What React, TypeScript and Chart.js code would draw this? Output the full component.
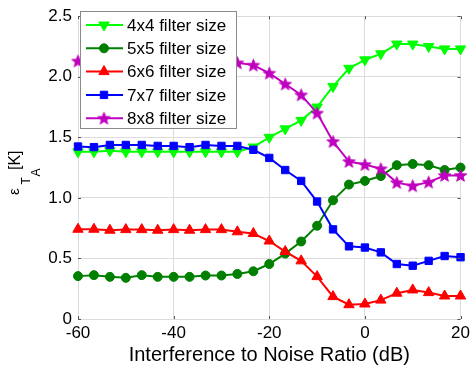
import React, { useEffect, useRef } from 'react';
import { Chart, registerables } from 'chart.js';
import { drawPoint } from 'chart.js/helpers';

Chart.register(...registerables);

// ---- data ----
const INR = [-60, -56.67, -53.33, -50, -46.67, -43.33, -40, -36.67, -33.33, -30, -26.67, -23.33, -20, -16.67, -13.33, -10, -6.67, -3.33, 0, 3.33, 6.67, 10, 13.33, 16.67, 20];
const F4x4 = [1.38, 1.38, 1.39, 1.38, 1.38, 1.38, 1.38, 1.38, 1.38, 1.38, 1.38, 1.42, 1.50, 1.57, 1.64, 1.75, 1.92, 2.07, 2.14, 2.19, 2.27, 2.27, 2.25, 2.23, 2.23];
const F5x5 = [0.354, 0.362, 0.348, 0.340, 0.362, 0.348, 0.348, 0.348, 0.359, 0.359, 0.372, 0.394, 0.454, 0.54, 0.64, 0.77, 0.98, 1.11, 1.14, 1.18, 1.27, 1.28, 1.27, 1.23, 1.25];
const F6x6 = [0.741, 0.741, 0.733, 0.738, 0.738, 0.733, 0.738, 0.733, 0.738, 0.738, 0.72, 0.706, 0.644, 0.557, 0.48, 0.35, 0.185, 0.118, 0.124, 0.156, 0.213, 0.24, 0.218, 0.19, 0.19];
const F7x7 = [1.424, 1.419, 1.437, 1.437, 1.437, 1.429, 1.429, 1.419, 1.437, 1.429, 1.429, 1.397, 1.33, 1.23, 1.14, 0.97, 0.74, 0.60, 0.59, 0.55, 0.454, 0.44, 0.48, 0.52, 0.51];
const F8x8 = [2.13, 2.13, 2.12, 2.13, 2.12, 2.12, 2.13, 2.12, 2.12, 2.12, 2.115, 2.096, 2.03, 1.94, 1.85, 1.70, 1.465, 1.30, 1.275, 1.24, 1.126, 1.10, 1.13, 1.185, 1.185];
const SERIES_LABELS = ['4x4 filter size', '5x5 filter size', '6x6 filter size', '7x7 filter size', '8x8 filter size'];
const X_TITLE = 'Interference to Noise Ratio (dB)';
const X_MIN = -60, X_MAX = 20, X_STEP = 20;
const Y_MIN = 0, Y_MAX = 2.5, Y_STEP = 0.5;

const FONT = "'Liberation Sans', Arial, sans-serif";
const GRID = '#dcdcdc';
const COLORS = ['#00ff00', '#007f00', '#ff0000', '#0000ff', '#bf00bf'];
const TARGET_TOP = 13;

function makeStar(color: string, R: number) {
  const c = document.createElement('canvas');
  const s = 15;
  c.width = s; c.height = s;
  const g = c.getContext('2d')!;
  g.beginPath();
  for (let k = 0; k < 10; k++) {
    const r = k % 2 ? R * 0.42 : R;
    const a = -Math.PI / 2 + (k * Math.PI) / 5;
    g.lineTo(s / 2 + r * Math.cos(a), s / 2 + 0.5 + r * Math.sin(a));
  }
  g.closePath();
  g.fillStyle = color; g.fill();
  g.strokeStyle = color; g.lineWidth = 1; g.stroke();
  return c;
}

export default function App() {
  const ref = useRef<HTMLCanvasElement>(null);
  useEffect(() => {
    const star = makeStar(COLORS[4], 6.5);
    const markers: any[] = [
      { pointStyle: 'triangle', rotation: 180, radius: 6 },
      { pointStyle: 'circle', rotation: 0, radius: 4.5 },
      { pointStyle: 'triangle', rotation: 0, radius: 6 },
      { pointStyle: 'rect', rotation: 0, radius: 5.2 },
      { pointStyle: star, rotation: 0, radius: 6 },
    ];
    const all = [F4x4, F5x5, F6x6, F7x7, F8x8];
    const datasets = all.map((arr, i) => ({
      label: SERIES_LABELS[i],
      data: INR.map((x, j) => ({ x, y: arr[j] })),
      borderColor: COLORS[i],
      backgroundColor: COLORS[i],
      borderWidth: 2,
      pointStyle: markers[i].pointStyle,
      pointRotation: markers[i].rotation,
      pointRadius: markers[i].radius,
      pointBorderWidth: 1,
      pointBorderColor: COLORS[i],
      pointBackgroundColor: COLORS[i],
      order: 5 - i,
      clip: false as any,
    }));

    const overlay = {
      id: 'overlay',
      afterDraw(chart: any) {
        const ctx = chart.ctx;
        const { left, right, top, bottom } = chart.chartArea;
        const xs = chart.scales.x, ys = chart.scales.y;
        ctx.save();
        // inward ticks
        ctx.strokeStyle = '#555';
        ctx.lineWidth = 1;
        ctx.beginPath();
        xs.ticks.forEach((t: any) => {
          const px = Math.round(xs.getPixelForValue(t.value)) + 0.5;
          ctx.moveTo(px, bottom); ctx.lineTo(px, bottom - 3);
          ctx.moveTo(px, top); ctx.lineTo(px, top + 3);
        });
        ys.ticks.forEach((t: any) => {
          const py = Math.round(ys.getPixelForValue(t.value)) + 0.5;
          ctx.moveTo(left, py); ctx.lineTo(left + 3, py);
          ctx.moveTo(right, py); ctx.lineTo(right - 3, py);
        });
        ctx.stroke();

        // legend
        const lx = 80.5, ly = 11.5, lw = 156, lh = 117;
        ctx.fillStyle = '#fff';
        ctx.fillRect(lx, ly, lw, lh);
        ctx.strokeStyle = '#8a8a8a';
        ctx.lineWidth = 1;
        ctx.strokeRect(lx, ly, lw, lh);
        const rowH = 23.3;
        ctx.font = `17px ${FONT}`;
        ctx.textBaseline = 'middle';
        ctx.textAlign = 'left';
        for (let i = 0; i < 5; i++) {
          const y = 25 + i * rowH;
          ctx.strokeStyle = COLORS[i];
          ctx.lineWidth = 2;
          ctx.beginPath(); ctx.moveTo(86, y); ctx.lineTo(123, y); ctx.stroke();
          ctx.fillStyle = COLORS[i];
          ctx.strokeStyle = COLORS[i];
          ctx.lineWidth = 1;
          drawPoint(ctx, { pointStyle: markers[i].pointStyle, rotation: markers[i].rotation, radius: markers[i].radius, borderWidth: 1 } as any, 104, y);
          ctx.fillStyle = '#000';
          ctx.fillText(SERIES_LABELS[i], 127, y + 1);
        }

        // y title: epsilon_{T_A} [K]
        ctx.rotate(-Math.PI / 2);
        ctx.fillStyle = '#000';
        ctx.textBaseline = 'alphabetic';
        ctx.font = `15px ${FONT}`;
        ctx.fillText('ε', -195, 19.3);
        ctx.font = `12px ${FONT}`;
        ctx.fillText('T', -184.5, 29.5);
        ctx.fillText('A', -176.5, 39.5);
        ctx.font = `16px ${FONT}`;
        ctx.fillText('[K]', -170, 19.5);
        ctx.restore();
      },
    };

    const tickFont = { family: FONT, size: 17 };
    const padding = { left: 0, right: 13, top: 12, bottom: 0 };
    const chart = new Chart(ref.current!, {
      type: 'line',
      data: { datasets: datasets as any },
      options: {
        animation: false,
        responsive: false,
        events: [],
        layout: { padding },
        plugins: { legend: { display: false }, tooltip: { enabled: false } },
        scales: {
          x: {
            type: 'linear',
            min: X_MIN, max: X_MAX,
            afterFit: (s: any) => { s.height = 53; },
            ticks: { stepSize: X_STEP, color: '#000', font: tickFont, padding: 4, maxRotation: 0 },
            grid: { color: GRID, drawTicks: false, lineWidth: 1 },
            border: { color: GRID },
            title: { display: true, text: X_TITLE, color: '#000', font: { family: FONT, size: 20 }, padding: { top: 0, bottom: 5 } },
          },
          y: {
            min: Y_MIN, max: Y_MAX,
            afterFit: (s: any) => { s.width = 78; },
            ticks: { stepSize: Y_STEP, color: '#000', font: tickFont, padding: 6 },
            grid: { color: GRID, drawTicks: false, lineWidth: 1 },
            border: { color: GRID },
          },
        },
      },
      plugins: [overlay],
    });
    const dt = TARGET_TOP - chart.chartArea.top;
    if (Math.abs(dt) > 0.25) {
      (chart.options.layout as any).padding = { ...padding, top: padding.top + dt };
      chart.update();
    }
    return () => chart.destroy();
  }, []);
  return (
    <div style={{ position: 'absolute', left: 0, top: 0, width: 474, height: 372, background: '#fff' }}>
      <canvas ref={ref} width={474} height={372} style={{ display: 'block' }} />
    </div>
  );
}
